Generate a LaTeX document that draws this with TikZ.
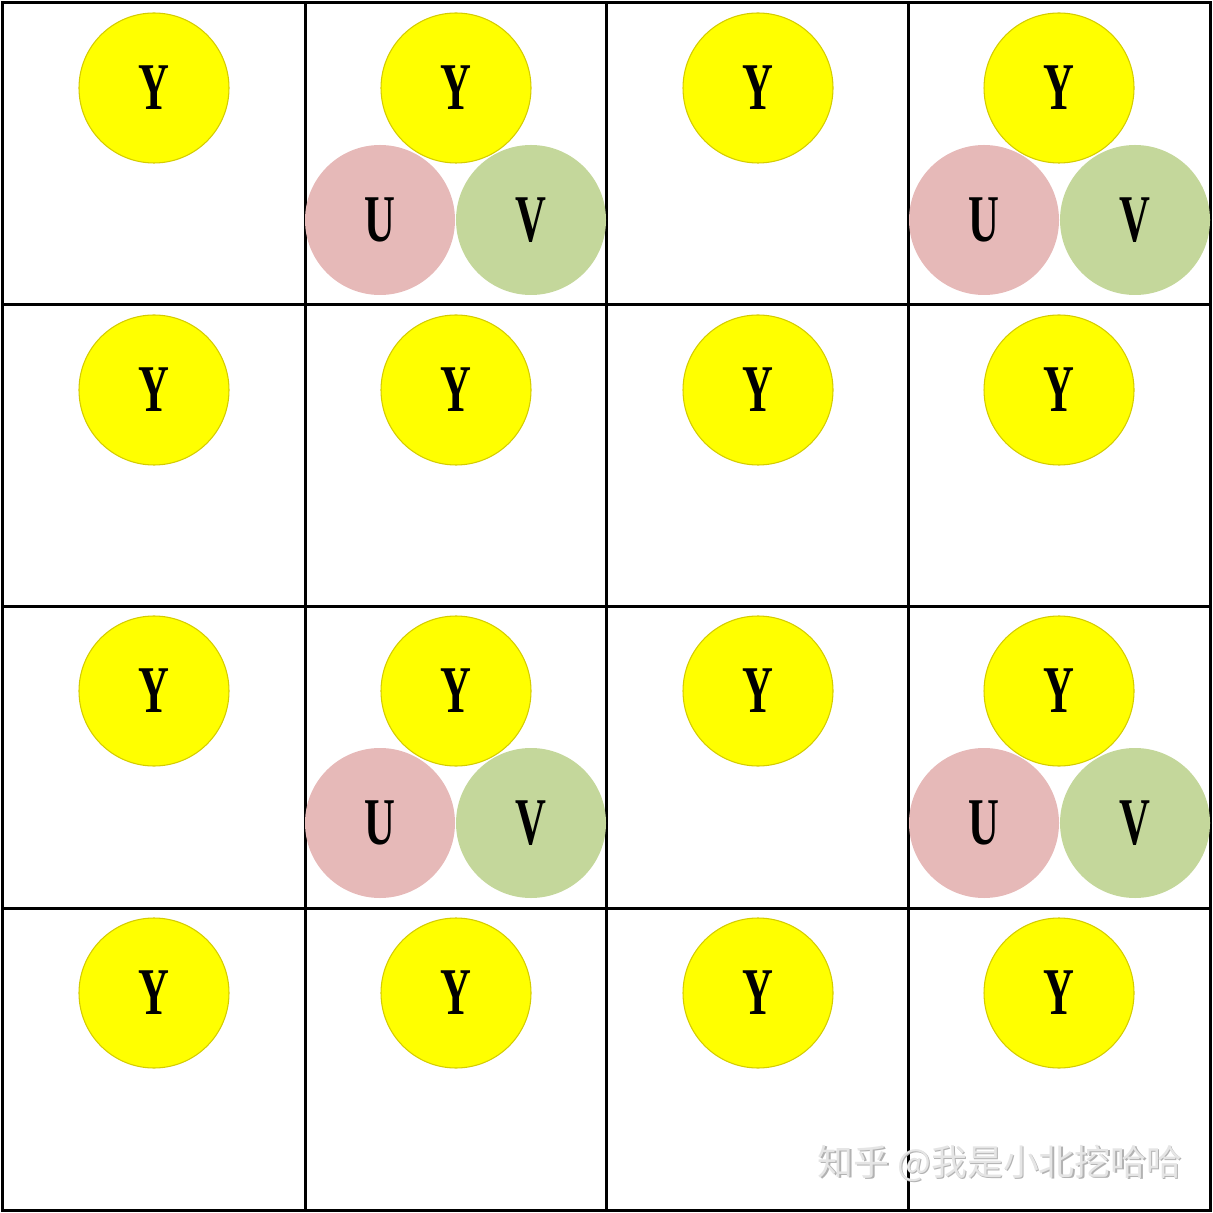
\documentclass[tikz,border=0pt]{standalone}
\usepackage{fontspec}
\usepackage{graphicx}
\setmainfont{Liberation Serif}
\newfontfamily\cjkfont{Noto Sans CJK SC}
\definecolor{ycolor}{RGB}{255,255,0}
\definecolor{ucolor}{HTML}{E6B9B8}
\definecolor{vcolor}{HTML}{C4D79B}
\definecolor{yedge}{HTML}{D4CC00}
\newcommand{\narrow}[1]{\scalebox{0.64}[1]{#1}}
\tikzset{
  ball/.style={circle,minimum size=1.5cm,inner sep=0pt,
    font=\fontsize{19}{19}\selectfont\bfseries},
  yball/.style={ball,fill=ycolor,draw=yedge,line width=0.3pt},
  uball/.style={ball,fill=ucolor},
  vball/.style={ball,fill=vcolor}
}
\begin{document}
\begin{tikzpicture}
\useasboundingbox (0,0) rectangle (12.13,-12.13);
% grid
\draw[line width=0.03cm] (0.03,-0.03) rectangle (12.10,-12.10);
\draw[line width=0.03cm] (3.05,-0.03)--(3.05,-12.10);
\draw[line width=0.03cm] (6.065,-0.03)--(6.065,-12.10);
\draw[line width=0.03cm] (9.08,-0.03)--(9.08,-12.10);
\draw[line width=0.03cm] (0.03,-3.05)--(12.10,-3.05);
\draw[line width=0.03cm] (0.03,-6.065)--(12.10,-6.065);
\draw[line width=0.03cm] (0.03,-9.08)--(12.10,-9.08);
% row 1
\node[yball] (y11) at (1.54,-0.88) {\narrow{Y}};
\node[yball] (y12) at (4.56,-0.88) {\narrow{Y}};
\node[uball] (u12) at (3.80,-2.20) {\narrow{U}};
\node[vball] (v12) at (5.31,-2.20) {\narrow{V}};
\node[yball] (y13) at (7.58,-0.88) {\narrow{Y}};
\node[yball] (y14) at (10.59,-0.88) {\narrow{Y}};
\node[uball] (u14) at (9.84,-2.20) {\narrow{U}};
\node[vball] (v14) at (11.35,-2.20) {\narrow{V}};
% row 2
\node[yball] (y21) at (1.54,-3.90) {\narrow{Y}};
\node[yball] (y22) at (4.56,-3.90) {\narrow{Y}};
\node[yball] (y23) at (7.58,-3.90) {\narrow{Y}};
\node[yball] (y24) at (10.59,-3.90) {\narrow{Y}};
% row 3
\node[yball] (y31) at (1.54,-6.91) {\narrow{Y}};
\node[yball] (y32) at (4.56,-6.91) {\narrow{Y}};
\node[uball] (u32) at (3.80,-8.23) {\narrow{U}};
\node[vball] (v32) at (5.31,-8.23) {\narrow{V}};
\node[yball] (y33) at (7.58,-6.91) {\narrow{Y}};
\node[yball] (y34) at (10.59,-6.91) {\narrow{Y}};
\node[uball] (u34) at (9.84,-8.23) {\narrow{U}};
\node[vball] (v34) at (11.35,-8.23) {\narrow{V}};
% row 4
\node[yball] (y41) at (1.54,-9.93) {\narrow{Y}};
\node[yball] (y42) at (4.56,-9.93) {\narrow{Y}};
\node[yball] (y43) at (7.58,-9.93) {\narrow{Y}};
\node[yball] (y44) at (10.59,-9.93) {\narrow{Y}};
% watermark
\node[anchor=west,inner sep=0pt,text=gray!60,font=\fontsize{10.2}{10.2}\selectfont\cjkfont] (markshadow) at (8.185,-11.645) {知乎 @我是小北挖哈哈};
\node[anchor=west,inner sep=0pt,text=gray!20,font=\fontsize{10.2}{10.2}\selectfont\cjkfont] (mark) at (8.17,-11.63) {知乎 @我是小北挖哈哈};
\end{tikzpicture}
\end{document}
